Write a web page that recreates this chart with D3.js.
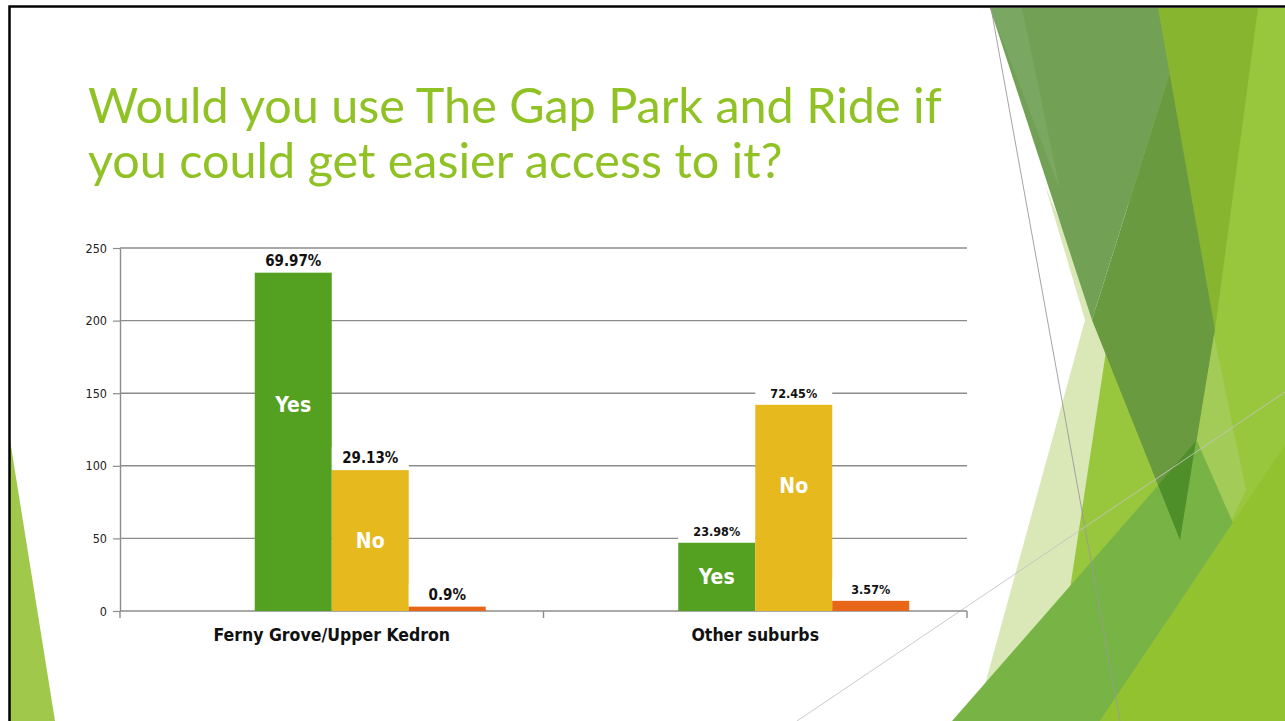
<!DOCTYPE html>
<html>
<head>
<meta charset="utf-8">
<script src="https://cdn.jsdelivr.net/npm/d3@7"></script>
<style>
  html, body { margin: 0; padding: 0; background: #fff; overflow: hidden; }
  svg { display: block; }
</style>
</head>
<body>
<div id="slide"></div>
<script>
'use strict';

// chart data
const categories = ["Ferny Grove/Upper Kedron", "Other suburbs"];
const seriesNames = ["", "Yes", "No", "Other"]; // first series is empty in the original
const blankCounts = [null, null];
const yesCounts = [233, 47];
const noCounts = [97, 142];
const otherCounts = [3, 7];
const yesPct = ["69.97%", "23.98%"];
const noPct = ["29.13%", "72.45%"];
const otherPct = ["0.9%", "3.57%"];
const yTicks = [0, 50, 100, 150, 200, 250];
const titleLines = ["Would you use The Gap Park and Ride if", "you could get easier access to it?"];

const seriesColors = ["none", "#54a021", "#e6b91e", "#e76618"];
const labelFont = [15, 12.5]; // data label size per category

(function() {
  var W = 1285, H = 721;
  var margin = {top: 248, left: 120, right: 318, bottom: 110};

  var svg = d3.select("#slide").append("svg")
      .attr("width", W)
      .attr("height", H);

  // ---- slide decoration (Facet style shapes) ----
  var facets = [
    {pts: [[1045,185],[1085,320],[975,721],[1120,721],[1180,540],[1100,320]], fill: "#d9e8b6"},
    {pts: [[1158,8],[1285,8],[1285,721],[1050,721]], fill: "#98c63c"},
    {pts: [[1190,8],[1092,320],[1180,540],[1215,330]], fill: "#6a9a40"},
    {pts: [[990,8],[1190,8],[1092,320]], fill: "#72a055"},
    {pts: [[990,8],[1022,8],[1060,190]], fill: "#7aa862"},
    {pts: [[1158,8],[1258,8],[1215,330]], fill: "#88b530"},
    {pts: [[1214,335],[1192,470],[1215,555],[1246,490]], fill: "#a3cb58"},
    {pts: [[952,721],[1197,441],[1233,523],[1100,721]], fill: "#78b346"},
    {pts: [[1158,485],[1196,441],[1180,540]], fill: "#4f8f2a"},
    {pts: [[1100,721],[1285,445],[1285,721]], fill: "#92c230"},
    {pts: [[10,440],[55,721],[10,721]], fill: "#a0c84a"}
  ];
  svg.selectAll("polygon.facet")
      .data(facets)
      .enter()
      .append("polygon")
        .attr("class", "facet")
        .attr("points", function(d) { return d.pts.map(function(p) { return p.join(","); }).join(" "); })
        .style("fill", function(d) { return d.fill; });

  // thin guide lines of the theme
  svg.append("line")
      .attr("x1", 991).attr("y1", 8).attr("x2", 1120).attr("y2", 721)
      .style("stroke", "#9a9a9a").style("stroke-width", 0.9);
  svg.append("line")
      .attr("x1", 797).attr("y1", 721).attr("x2", 1285).attr("y2", 392)
      .style("stroke", "#c4c4c4").style("stroke-width", 0.9);

  // ---- title ----
  var title = svg.append("text")
      .style("font-family", "Lato, 'Open Sans', sans-serif")
      .style("font-size", "48px")
      .style("fill", "#90c226");
  title.selectAll("tspan")
      .data(titleLines)
      .enter()
      .append("tspan")
        .attr("x", 88)
        .attr("y", function(d, i) { return 123 + i * 55; })
        .text(function(d) { return d; });
  // fit first line width to the original (~854px)
  var w0 = title.select("tspan").node().getComputedTextLength();
  title.style("font-size", (48 * 854 / w0) + "px");

  // ---- chart ----
  var width = W - margin.left - margin.right,   // 847
      height = H - margin.top - margin.bottom;  // 363

  var g = svg.append("g")
      .attr("transform", "translate(" + margin.left + "," + margin.top + ")");

  var x0 = d3.scaleBand()
      .domain(categories)
      .range([0, width])
      .padding(0);

  var x1 = d3.scaleBand()
      .domain(seriesNames)
      .range([0, x0.bandwidth()])
      .paddingInner(0)
      .paddingOuter(0.75);

  var y = d3.scaleLinear()
      .domain([0, 250])
      .range([height, 0]);

  // gridlines
  g.selectAll("line.grid")
      .data(yTicks.slice(1))
      .enter()
      .append("line")
        .attr("class", "grid")
        .attr("x1", 0).attr("x2", width)
        .attr("y1", function(d) { return y(d); })
        .attr("y2", function(d) { return y(d); })
        .style("stroke", "#8c8c8c")
        .style("stroke-width", 1.4);

  // y axis
  var yAxis = g.append("g")
      .call(d3.axisLeft(y).tickValues(yTicks).tickSize(7).tickSizeOuter(0).tickPadding(6));
  yAxis.select(".domain").style("stroke", "#8c8c8c").style("stroke-width", 1.4);
  yAxis.selectAll(".tick line").style("stroke", "#8c8c8c").style("stroke-width", 1.2);
  yAxis.selectAll(".tick text")
      .style("font-family", "'DejaVu Sans Condensed', 'DejaVu Sans', sans-serif")
      .style("font-size", "12.5px")
      .style("fill", "#222");

  // x axis: baseline, boundary ticks and category names
  var xAxis = g.append("g")
      .attr("transform", "translate(0," + height + ")")
      .call(d3.axisBottom(x0).tickSize(0).tickPadding(18));
  xAxis.select(".domain").remove();
  xAxis.append("line")
      .attr("x1", 0).attr("x2", width)
      .style("stroke", "#8c8c8c").style("stroke-width", 1.4);
  var edges = [0].concat(categories.map(function(c) { return x0(c) + x0.bandwidth(); }));
  xAxis.selectAll("line.edge")
      .data(edges)
      .enter()
      .append("line")
        .attr("class", "edge")
        .attr("x1", function(d) { return d; }).attr("x2", function(d) { return d; })
        .attr("y1", 0).attr("y2", 7)
        .style("stroke", "#8c8c8c").style("stroke-width", 1.4);
  xAxis.selectAll(".tick text")
      .style("font-family", "'DejaVu Sans Condensed', 'DejaVu Sans', sans-serif")
      .style("font-size", "17.5px")
      .style("font-weight", "bold")
      .style("fill", "#111");

  // rows for bars
  var counts = [blankCounts, yesCounts, noCounts, otherCounts];
  var pcts = [null, yesPct, noPct, otherPct];
  var rows = [];
  categories.forEach(function(c, ci) {
    seriesNames.forEach(function(s, si) {
      if (counts[si][ci] == null) return;
      rows.push({cat: c, ci: ci, series: s, si: si, value: counts[si][ci], pct: pcts[si][ci]});
    });
  });

  var groups = g.selectAll("g.bar")
      .data(rows)
      .enter()
      .append("g")
        .attr("class", "bar")
        .attr("transform", function(d) { return "translate(" + (x0(d.cat) + x1(d.series)) + ",0)"; });

  groups.append("rect")
      .attr("x", 0)
      .attr("y", function(d) { return y(d.value); })
      .attr("width", x1.bandwidth())
      .attr("height", function(d) { return height - y(d.value); })
      .style("fill", function(d) { return seriesColors[d.si]; });

  // percentage labels above bars, on a white box
  groups.each(function(d) {
    var sel = d3.select(this);
    var bg = sel.append("rect").style("fill", "#fff");
    var t = sel.append("text")
        .attr("x", x1.bandwidth() / 2)
        .attr("y", y(d.value) - 7)
        .attr("text-anchor", "middle")
        .style("font-family", "'DejaVu Sans Condensed', 'DejaVu Sans', sans-serif")
        .style("font-weight", "bold")
        .style("font-size", labelFont[d.ci] + "px")
        .style("fill", "#111")
        .text(d.pct);
    var b = t.node().getBBox();
    bg.attr("x", Math.min(0, b.x - 4))
      .attr("y", b.y - 2)
      .attr("width", Math.max(x1.bandwidth(), b.width + 8))
      .attr("height", y(d.value) - b.y + 2 - 1);
  });

  // series names inside the Yes / No bars
  groups.filter(function(d) { return d.series === "Yes" || d.series === "No"; })
      .append("text")
        .attr("x", x1.bandwidth() / 2)
        .attr("y", function(d) { return y(d.value * (d.value > 100 ? 0.61 : 0.5)); })
        .attr("dy", "0.35em")
        .attr("text-anchor", "middle")
        .style("font-family", "'DejaVu Sans Condensed', 'DejaVu Sans', sans-serif")
        .style("font-weight", "bold")
        .style("font-size", "21px")
        .style("fill", "#fff")
        .text(function(d) { return d.series; });

  // slide frame
  svg.append("rect")
      .attr("x", 9.5).attr("y", 6.5)
      .attr("width", 1400).attr("height", 800)
      .style("fill", "none")
      .style("stroke", "#000")
      .style("stroke-width", 2.5);
})();
</script>
</body>
</html>
